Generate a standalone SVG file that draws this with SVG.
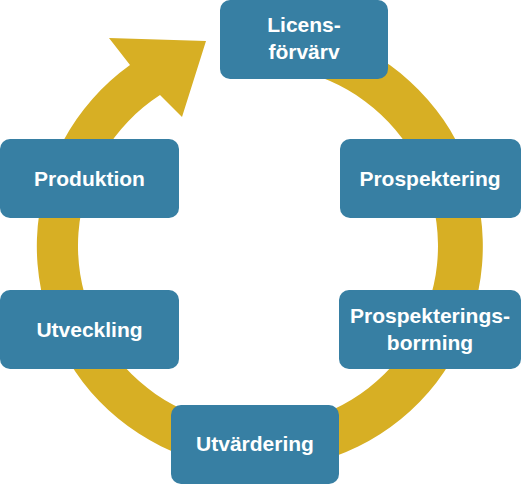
<svg xmlns="http://www.w3.org/2000/svg" width="521" height="485" viewBox="0 0 521 485">
<style>
.box{fill:#377fa3}
.t{fill:#ffffff;font-family:"Liberation Sans",Arial,sans-serif;font-weight:bold;font-size:21px;text-anchor:middle}
.ring{fill:#d7af24}
</style>
<rect width="521" height="485" fill="#ffffff"/>
<g id="connectors">
<path class="ring" d="M 296.72 26.39 A 223 223 0 1 1 130 65 L 109 38 L 206 41 L 182 117 L 160 95 A 180 180 0 1 0 289.26 68.73 Z"/>
</g>
<g id="licensforvarv">
<rect class="box" x="220" y="0" width="168" height="79" rx="10"/>
<text class="t" x="304" y="32">Licens-</text>
<text class="t" x="304" y="59">förvärv</text>
</g>
<g id="prospektering">
<rect class="box" x="340" y="139" width="181" height="79" rx="10"/>
<text class="t" x="430" y="186">Prospektering</text>
</g>
<g id="prospekteringsborrning">
<rect class="box" x="339" y="290" width="182" height="79" rx="10"/>
<text class="t" x="430" y="323">Prospekterings-</text>
<text class="t" x="430" y="350">borrning</text>
</g>
<g id="utvardering">
<rect class="box" x="171" y="405" width="168" height="79" rx="10"/>
<text class="t" x="255" y="451">Utvärdering</text>
</g>
<g id="utveckling">
<rect class="box" x="0" y="290" width="179" height="79" rx="10"/>
<text class="t" x="89.5" y="337">Utveckling</text>
</g>
<g id="produktion">
<rect class="box" x="0" y="139" width="179" height="79" rx="10"/>
<text class="t" x="89.5" y="186">Produktion</text>
</g>
</svg>
